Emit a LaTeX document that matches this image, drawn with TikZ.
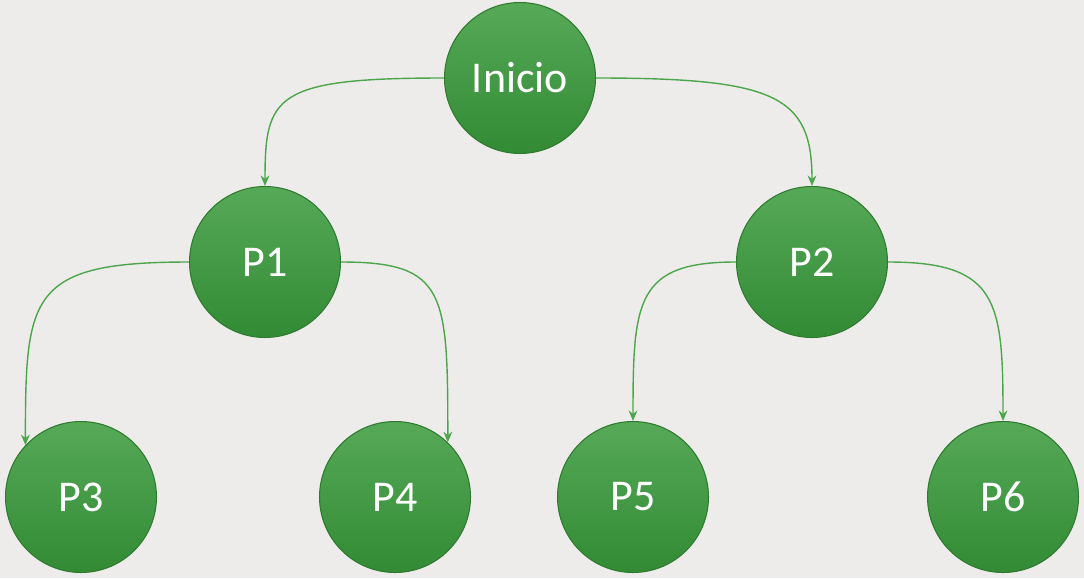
\documentclass[tikz,border=0pt]{standalone}
\usepackage{fontspec}
\usetikzlibrary{arrows.meta}
\setmainfont{Carlito}
\definecolor{bg}{HTML}{EEECEA}
\definecolor{gfill}{HTML}{389A3A}
\definecolor{gdark}{HTML}{2E7B30}
\definecolor{gline}{HTML}{4CA64C}
\begin{document}
\begin{tikzpicture}[x=0.02cm,y=-0.02cm,
  nd/.style={circle,minimum size=3.02cm,inner sep=0pt,draw=gdark,line width=0.6pt,
    top color=gfill!85!white,bottom color=gfill!90!black,text=white,font=\fontsize{25}{30}\selectfont},
  ed/.style={draw=gline,line width=0.8pt,-{Stealth[length=6pt,width=5pt]}}]
\fill[bg] (0,0) rectangle (1084,578);
\useasboundingbox (0,0) rectangle (1084,578);
\node[nd] (ini) at (520,78) {Inicio};
\node[nd] (p1) at (265,262) {P1};
\node[nd] (p2) at (812,262) {P2};
\node[nd] (p3) at (81,497) {P3};
\node[nd] (p4) at (395,497) {P4};
\node[nd] (p5) at (633,497) {P5};
\node[nd] (p6) at (1003,497) {P6};
\draw[ed] (ini.west) .. controls +(-170,0) and +(0,-90) .. (p1.north);
\draw[ed] (ini.east) .. controls +(180,0) and +(0,-90) .. (p2.north);
\draw[ed] (p1.west) .. controls +(-160,0) and +(0,-150) .. (p3.137);
\draw[ed] (p1.east) .. controls +(105,0) and +(0,-150) .. (p4.46);
\draw[ed] (p2.west) .. controls +(-100,0) and +(0,-120) .. (p5.north);
\draw[ed] (p2.east) .. controls +(110,0) and +(0,-120) .. (p6.north);
\end{tikzpicture}
\end{document}
